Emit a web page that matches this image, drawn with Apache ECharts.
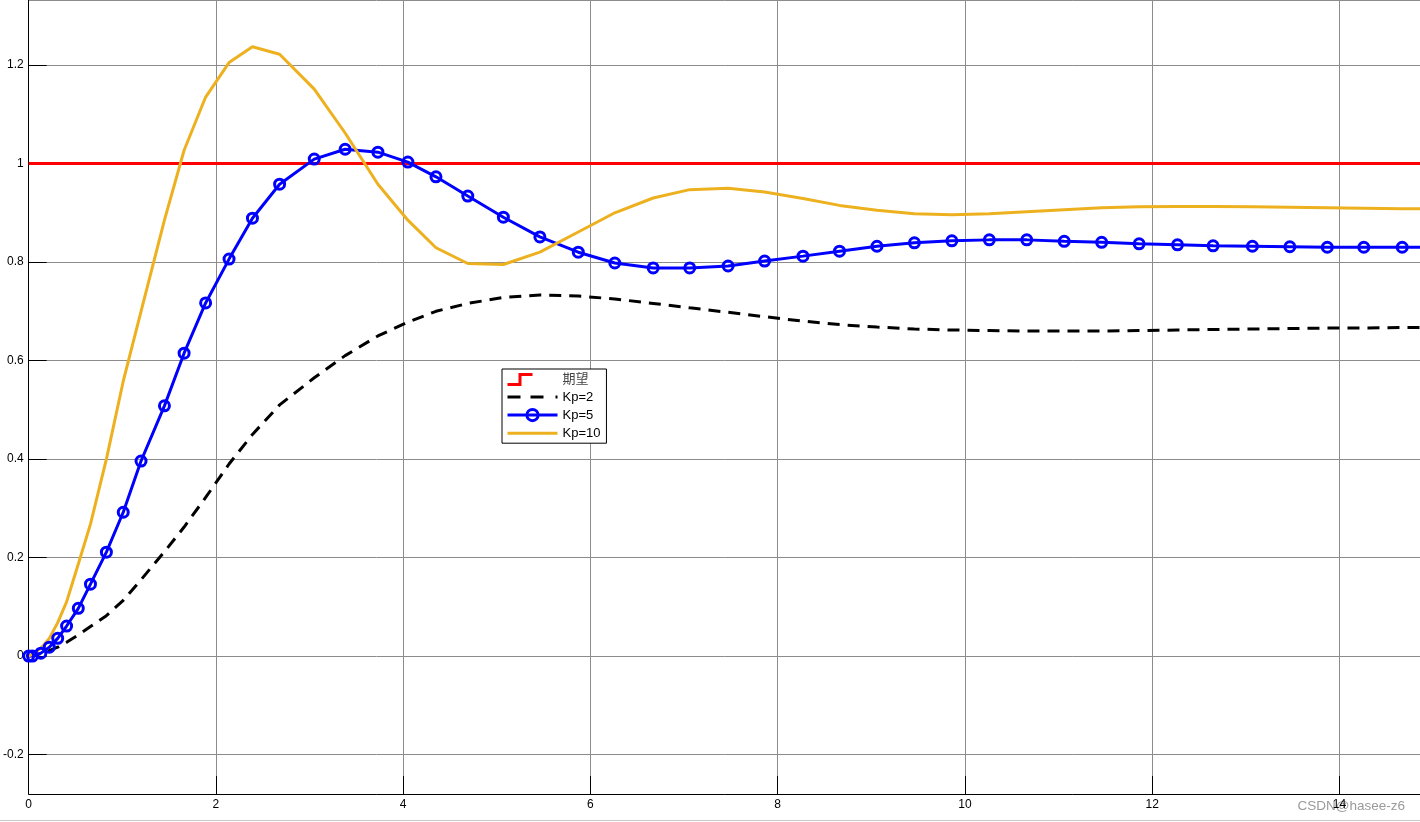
<!DOCTYPE html>
<html>
<head>
<meta charset="utf-8">
<script src="https://cdn.jsdelivr.net/npm/echarts@6/dist/echarts.min.js"></script>
<style>
html,body{margin:0;padding:0;background:#fff;}
#chart{width:1420px;height:822px;}
</style>
</head>
<body>
<div id="chart"></div>
<script>
// Shared simulation time points (s)
const timeVals = [0, 0.04, 0.13, 0.22, 0.31, 0.405, 0.53, 0.66, 0.83, 1.01, 1.2, 1.45, 1.66, 1.89, 2.14, 2.39, 2.68, 3.05, 3.38, 3.73, 4.05, 4.35, 4.69, 5.07, 5.46, 5.87, 6.26, 6.67, 7.06, 7.47, 7.86, 8.27, 8.66, 9.06, 9.46, 9.86, 10.26, 10.66, 11.06, 11.46, 11.86, 12.27, 12.65, 13.07, 13.47, 13.87, 14.26, 14.67, 15.0];

// 期望 (reference step)
const refTimes = [0, 15];
const refVals = [1, 1];

// Kp=2
const kp2Vals = [0, 0.001, 0.005, 0.011, 0.018, 0.028, 0.043, 0.060, 0.082, 0.113, 0.155, 0.212, 0.262, 0.322, 0.39, 0.45, 0.51, 0.565, 0.61, 0.65, 0.678, 0.70, 0.716, 0.728, 0.733, 0.731, 0.725, 0.716, 0.707, 0.698, 0.689, 0.680, 0.673, 0.668, 0.664, 0.662, 0.661, 0.660, 0.660, 0.660, 0.661, 0.662, 0.663, 0.664, 0.665, 0.666, 0.666, 0.667, 0.667];

// Kp=5
const kp5Vals = [0, 0, 0.006, 0.018, 0.036, 0.061, 0.097, 0.146, 0.211, 0.292, 0.396, 0.508, 0.615, 0.717, 0.806, 0.889, 0.958, 1.009, 1.029, 1.023, 1.003, 0.973, 0.934, 0.891, 0.851, 0.820, 0.798, 0.788, 0.788, 0.792, 0.802, 0.812, 0.822, 0.832, 0.839, 0.843, 0.845, 0.845, 0.842, 0.840, 0.837, 0.835, 0.833, 0.832, 0.831, 0.830, 0.830, 0.830, 0.830];

// Kp=10
const kp10Vals = [0, 0.004, 0.016, 0.036, 0.068, 0.11, 0.187, 0.268, 0.40, 0.558, 0.70, 0.885, 1.027, 1.135, 1.205, 1.237, 1.222, 1.151, 1.062, 0.958, 0.885, 0.829, 0.797, 0.795, 0.820, 0.861, 0.900, 0.930, 0.947, 0.950, 0.942, 0.929, 0.915, 0.905, 0.898, 0.896, 0.898, 0.902, 0.906, 0.910, 0.912, 0.913, 0.913, 0.912, 0.911, 0.910, 0.909, 0.908, 0.908];

const seriesNames = ['期望', 'Kp=2', 'Kp=5', 'Kp=10'];
const watermark = 'CSDN@hasee-z6';

const pair = (ts, vs) => ts.map((t, i) => [t, vs[i]]);

const chart = echarts.init(document.getElementById('chart'), null, {renderer: 'canvas'});
const fontFam = 'Liberation Sans, Arial, "Noto Sans CJK SC", sans-serif';

// legend icon shapes (bounding box 50 x 14)
const bboxPts = ' M0,0h0.01v0.01Z M49.99,14h0.01v-0.01Z';
const iconStep = 'path://M0,11L11,11L11,1L25,1L25,4L14,4L14,14L0,14Z' + bboxPts;
const iconDash = 'path://M0,5.5h13v3h-13Z M23,5.5h13v3h-13Z M48,5.5h2v3h-2Z' + bboxPts;
const iconSolid = 'path://M0,5.5h50v3h-50Z' + bboxPts;

chart.setOption({
  animation: false,
  backgroundColor: '#ffffff',
  grid: {left: 26, right: 0, top: 0, bottom: 28, containLabel: false},
  xAxis: {
    type: 'value', min: 0, max: 14.86, interval: 2,
    axisLine: {show: true, onZero: false, lineStyle: {color: '#000', width: 1}},
    axisTick: {show: true, inside: true, length: 18, lineStyle: {color: '#000', width: 1}},
    axisLabel: {color: '#000', fontSize: 12, fontFamily: fontFam, margin: 5, showMaxLabel: false},
    splitLine: {show: true, lineStyle: {color: '#8c8c8c', width: 1}}
  },
  yAxis: {
    type: 'value', min: -0.28, max: 1.332, splitNumber: 8,
    axisLine: {show: true, onZero: false, lineStyle: {color: '#000', width: 1}},
    axisTick: {show: true, inside: true, length: 18, lineStyle: {color: '#000', width: 1}},
    axisLabel: {color: '#000', fontSize: 12, fontFamily: fontFam, margin: 5, showMinLabel: false, showMaxLabel: false,
      formatter: v => (Math.round(v * 10) / 10).toString()},
    splitLine: {show: true, lineStyle: {color: '#8c8c8c', width: 1}}
  },
  legend: {
    left: 502, top: 369, orient: 'vertical',
    backgroundColor: '#fff', borderColor: '#000', borderWidth: 1,
    padding: [3, 6, 3, 4], itemGap: 4, itemWidth: 50, itemHeight: 14,
    selectedMode: false,
    textStyle: {color: '#000', fontSize: 13, fontFamily: fontFam},
    data: [
      {name: seriesNames[0], icon: iconStep, itemStyle: {color: '#ff0000'}, textStyle: {color: '#444'}},
      {name: seriesNames[1], icon: iconDash, itemStyle: {color: '#000000'}},
      {name: seriesNames[2], lineStyle: {width: 3, color: '#0000ff'}, itemStyle: {color: 'rgba(255,255,255,0)', borderColor: '#0000ff', borderWidth: 3}},
      {name: seriesNames[3], icon: iconSolid, itemStyle: {color: '#edb120'}}
    ]
  },
  graphic: [
    {type: 'text', right: 15, bottom: 9, style: {text: watermark, fill: '#9a9a9a', fontSize: 13.5, fontFamily: fontFam}},
    {type: 'rect', left: 0, bottom: 1, shape: {width: 1420, height: 1}, style: {fill: '#c8c8c8'}}
  ],
  series: [
    {name: seriesNames[0], type: 'line', data: pair(refTimes, refVals), showSymbol: false, symbol: 'none',
      lineStyle: {color: '#ff0000', width: 3}, itemStyle: {color: '#ff0000'}, silent: true},
    {name: seriesNames[1], type: 'line', data: pair(timeVals, kp2Vals), showSymbol: false, symbol: 'none', smooth: false,
      lineStyle: {color: '#000000', width: 3, type: [12, 8]}, itemStyle: {color: '#000000'}, silent: true},
    {name: seriesNames[2], type: 'line', data: pair(timeVals, kp5Vals), symbol: 'circle', symbolSize: 10, showSymbol: true, showAllSymbol: true,
      lineStyle: {color: '#0000ff', width: 3}, itemStyle: {color: 'rgba(255,255,255,0)', borderColor: '#0000ff', borderWidth: 3}, silent: true},
    {name: seriesNames[3], type: 'line', data: pair(timeVals, kp10Vals), showSymbol: false, symbol: 'none',
      lineStyle: {color: '#edb120', width: 3}, itemStyle: {color: '#edb120'}, silent: true}
  ]
});
</script>
</body>
</html>
